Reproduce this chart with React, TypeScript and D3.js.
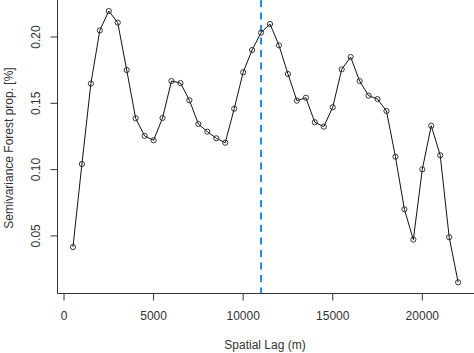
import React from "react";
import * as d3 from "d3";

// lag distance (m) and semivariance of forest proportion
const lags = [
  500, 1000, 1500, 2000, 2500, 3000, 3500, 4000, 4500, 5000, 5500, 6000, 6500,
  7000, 7500, 8000, 8500, 9000, 9500, 10000, 10500, 11000, 11500, 12000, 12500,
  13000, 13500, 14000, 14500, 15000, 15500, 16000, 16500, 17000, 17500, 18000,
  18500, 19000, 19500, 20000, 20500, 21000, 21500, 22000,
];
const semivar = [
  0.0416, 0.1042, 0.1648, 0.205, 0.2196, 0.2108, 0.1751, 0.1387, 0.1254,
  0.1221, 0.1389, 0.1668, 0.1653, 0.1523, 0.1344, 0.1286, 0.1236, 0.1203,
  0.1459, 0.1734, 0.1902, 0.2033, 0.2098, 0.1937, 0.1721, 0.152, 0.1542,
  0.1357, 0.1324, 0.147, 0.1756, 0.1849, 0.1668, 0.1558, 0.1532, 0.1442,
  0.1097, 0.0701, 0.0472, 0.1002, 0.1331, 0.1108, 0.049, 0.015,
];
const xTicks = [0, 5000, 10000, 15000, 20000];
const yTicks = [0.05, 0.1, 0.15, 0.2];
const cutoff = 11000;

const W = 474;
const H = 353;

export default function App() {
  const x = d3.scaleLinear().domain([0, 20000]).range([64, 422.3]);
  const y = d3.scaleLinear().domain([0.05, 0.2]).range([235.9, 37]);
  const axisX = 57.5;
  const axisY = 293.5;
  const pts = lags.map((l, i) => ({ l, v: semivar[i] }));
  const line = d3
    .line<{ l: number; v: number }>()
    .x((d) => x(d.l))
    .y((d) => y(d.v));
  const font = "'Liberation Sans', Arial, sans-serif";

  return (
    <svg
      width={W}
      height={H}
      style={{ position: "absolute", left: 0, top: 0, background: "#fff" }}
      fontFamily={font}
      fontSize={12}
    >
      {/* cutoff line */}
      <line
        x1={x(cutoff)}
        x2={x(cutoff)}
        y1={0}
        y2={axisY}
        stroke="#1e88f0"
        strokeWidth={2}
        strokeDasharray="7,5.5"
      />
      <path d={line(pts) ?? ""} fill="none" stroke="#111" strokeWidth={1} />
      {pts.map((d, i) => (
        <circle
          key={i}
          cx={x(d.l)}
          cy={y(d.v)}
          r={2.6}
          fill="none"
          stroke="#222"
          strokeWidth={0.9}
        />
      ))}
      {/* axes */}
      <line x1={axisX} x2={axisX} y1={0} y2={axisY} stroke="#333" />
      <line x1={axisX} x2={W} y1={axisY} y2={axisY} stroke="#333" />
      {yTicks.map((t) => (
        <g key={t}>
          <line x1={axisX - 7} x2={axisX} y1={y(t)} y2={y(t)} stroke="#333" />
          <text
            transform={`translate(39.5,${y(t)}) rotate(-90)`}
            textAnchor="middle"
            fill="#333"
          >
            {t.toFixed(2)}
          </text>
        </g>
      ))}
      {xTicks.map((t) => (
        <g key={t}>
          <line x1={x(t)} x2={x(t)} y1={axisY} y2={axisY + 7} stroke="#333" />
          <text x={x(t)} y={320} textAnchor="middle" fill="#333">
            {t}
          </text>
        </g>
      ))}
      <text x={265} y={348.5} textAnchor="middle" fill="#333">
        Spatial Lag (m)
      </text>
      <text
        transform="translate(13,148) rotate(-90)"
        textAnchor="middle"
        fill="#333"
      >
        Semivariance Forest prop. [%]
      </text>
    </svg>
  );
}
